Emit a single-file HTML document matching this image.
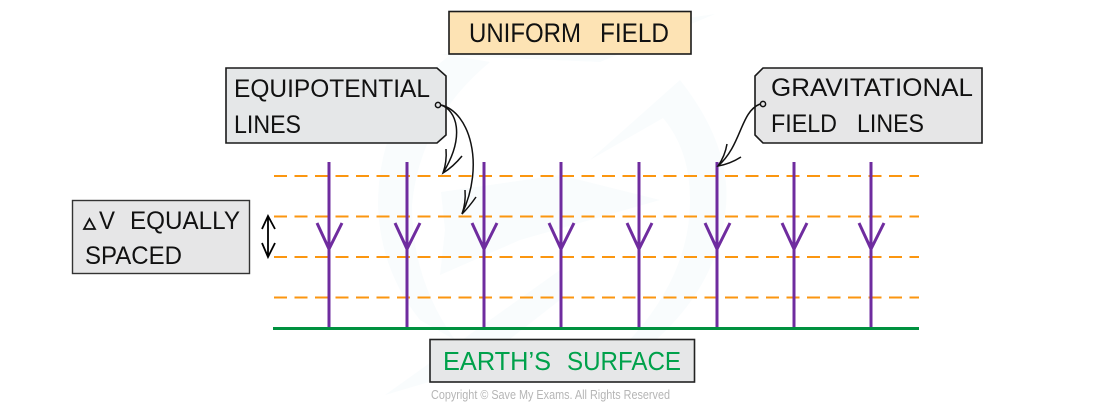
<!DOCTYPE html>
<html>
<head>
<meta charset="utf-8">
<style>
html,body{margin:0;padding:0;background:#fff;width:1100px;height:408px;overflow:hidden}
svg{display:block}
text{font-family:"Liberation Sans",sans-serif;font-size:25px;fill:#111}
</style>
</head>
<body>
<svg width="1100" height="408" viewBox="0 0 1100 408" xmlns="http://www.w3.org/2000/svg">
<g fill="#f9fcfd">
<path d="M378 205 Q378 110 450 55 L490 62 Q420 120 412 205 Q412 280 455 340 L420 320 Q380 270 378 205Z"/>
<path d="M440 55 L715 14 L600 62 Z"/>
<path d="M680 80 Q735 150 725 215 Q715 290 650 345 L620 350 Q690 280 690 200 Q690 150 663 118 L590 160Z"/>
<path d="M441 192 L560 175 L660 200 L520 240 L440 275 L445 230Z"/>
<path d="M385 395 L560 270 L560 300 L470 370Z"/>
</g>

<rect x="449" y="11.500" width="242" height="42.500" fill="#fde3b4" stroke="#1a1a1a" stroke-width="1.600"/>
<text x="469" y="42" textLength="112" lengthAdjust="spacingAndGlyphs" style="font-size:27px">UNIFORM</text>
<text x="600" y="42" textLength="69" lengthAdjust="spacingAndGlyphs" style="font-size:27px">FIELD</text>

<path d="M226 68 H437 L446 76 V135 L437 143 H226Z" fill="#e5e7e8" stroke="#1a1a1a" stroke-width="1.600"/>
<text x="234" y="97" textLength="196" lengthAdjust="spacingAndGlyphs">EQUIPOTENTIAL</text>
<text x="234" y="133" textLength="67" lengthAdjust="spacingAndGlyphs">LINES</text>

<path d="M763 68 H982 V143 H763 L755 135 V76Z" fill="#e6e6e7" stroke="#1a1a1a" stroke-width="1.600"/>
<text x="771" y="96" textLength="202" lengthAdjust="spacingAndGlyphs">GRAVITATIONAL</text>
<text x="771" y="132" textLength="66" lengthAdjust="spacingAndGlyphs">FIELD</text>
<text x="857" y="132" textLength="67" lengthAdjust="spacingAndGlyphs">LINES</text>

<rect x="72.500" y="200.500" width="177" height="73" fill="#e6e6e7" stroke="#333" stroke-width="1.400"/>
<path d="M84 229 L89.500 219 L95 229Z" fill="none" stroke="#111" stroke-width="1.800"/>
<text x="99" y="229" textLength="16" lengthAdjust="spacingAndGlyphs">V</text>
<text x="130" y="229" textLength="110" lengthAdjust="spacingAndGlyphs">EQUALLY</text>
<text x="85" y="264" textLength="97" lengthAdjust="spacingAndGlyphs">SPACED</text>

<rect x="430" y="339.500" width="264.500" height="42.500" fill="#e6e7e8" stroke="#222" stroke-width="1.600"/>
<text x="443" y="370" textLength="108" lengthAdjust="spacingAndGlyphs" style="fill:#00a14b;font-size:26px">EARTH’S</text>
<text x="567" y="370" textLength="114" lengthAdjust="spacingAndGlyphs" style="fill:#00a14b;font-size:26px">SURFACE</text>

<g stroke="#fb9610" stroke-width="2" stroke-dasharray="13 7.500" fill="none">
<path d="M274 176 H919"/>
<path d="M274 216.500 H919"/>
<path d="M274 257 H919"/>
<path d="M274 297.500 H919"/>
</g>

<g stroke="#6f2c9f" stroke-width="3" fill="none">
<path d="M329 162 V327 M317 223 L329 249 L342 223"/>
<path d="M407 162 V327 M395 223 L407 249 L420 223"/>
<path d="M484 162 V327 M472 223 L484 249 L497 223"/>
<path d="M561 162 V327 M549 223 L561 249 L574 223"/>
<path d="M639 162 V327 M627 223 L639 249 L652 223"/>
<path d="M717 162 V327 M705 223 L717 249 L730 223"/>
<path d="M794 162 V327 M782 223 L794 249 L807 223"/>
<path d="M871 162 V327 M859 223 L871 249 L884 223"/>
</g>

<path d="M273 328.500 H919" stroke="#00913f" stroke-width="3" fill="none"/>

<g stroke="#000" stroke-width="1.800" fill="none">
<path d="M268 216 V256 M262 229 L268 216 L275 229 M262 243 L268 257 L275 243"/>
</g>

<g stroke="#111" stroke-width="1.500" fill="none">
<circle cx="438" cy="105" r="2.600"/>
<path d="M441 105 C456 110 466 135 443 173"/>
<path d="M441 105 C470 112 485 165 462 214"/>
<path d="M446 149 Q447 162 443 173 Q453 167 462 156"/>
<path d="M465 190 Q466 203 462 214 Q469 207 476 197"/>
<circle cx="763" cy="104" r="2.600"/>
<path d="M760 104 C740 112 742 145 718 166"/>
<path d="M727 144 Q725 156 718 166 Q730 164 741 157"/>
</g>

<text x="431" y="399" textLength="239" lengthAdjust="spacingAndGlyphs" style="font-size:12.500px;fill:#b5b5b5">Copyright © Save My Exams. All Rights Reserved</text>
</svg>
</body>
</html>
